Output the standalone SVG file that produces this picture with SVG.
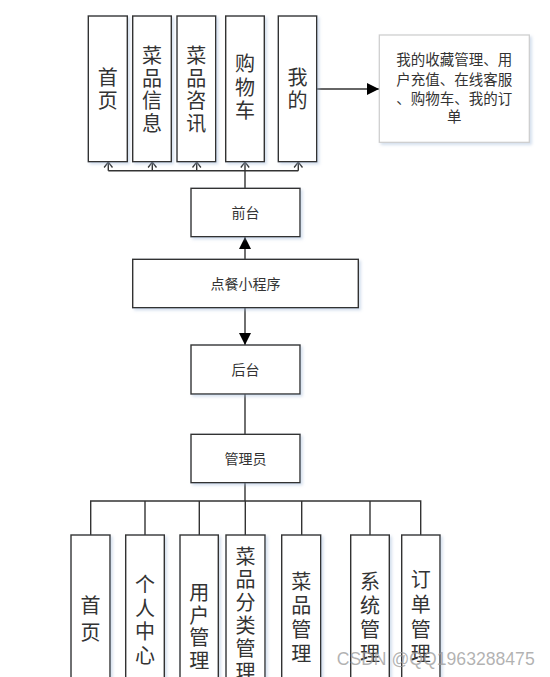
<svg xmlns="http://www.w3.org/2000/svg" width="550" height="677" viewBox="0 0 550 677">
<style>
.box{fill:#fff;stroke:#333;stroke-width:1.4;filter:url(#sh)}
.note{fill:#fff;stroke:#ccc;stroke-width:1.2;filter:url(#sh)}
.big{font-family:"Liberation Serif","Noto Sans CJK SC",serif;font-size:20px;fill:#333;text-anchor:middle}
.mid{font-family:"Liberation Serif","Noto Sans CJK SC",serif;font-size:14px;fill:#333;text-anchor:middle}
.small{font-family:"Liberation Serif","Noto Sans CJK SC",serif;font-size:14.5px;fill:#333;text-anchor:middle}
.ln{fill:none;stroke:#333;stroke-width:1.4}
.wm{font-family:"Liberation Sans",Arial,sans-serif;font-size:17.5px;fill:#999;fill-opacity:0.75}
</style>
<defs>
<filter id="sh" x="-20%" y="-20%" width="140%" height="140%">
<feDropShadow dx="2" dy="2" stdDeviation="1.5" flood-color="#9fb8d8" flood-opacity="0.45"/>
</filter>
<marker id="fa" markerWidth="12" markerHeight="12" refX="12" refY="6" orient="auto" markerUnits="userSpaceOnUse">
<path d="M0,0 L12,6 L0,12 Z" fill="#000"/>
</marker>
<marker id="oa" markerWidth="8" markerHeight="10" refX="6" refY="5" orient="auto" markerUnits="userSpaceOnUse">
<path d="M0.5,0.8 L6,5 L0.5,9.2" fill="none" stroke="#333" stroke-width="1.3"/>
</marker>
</defs>

<g id="connectors">
<path class="ln" d="M108.3,170.7 H298.3"/>
<path class="ln" d="M108.3,170.7 V162" marker-end="url(#oa)"/>
<path class="ln" d="M152.3,170.7 V162" marker-end="url(#oa)"/>
<path class="ln" d="M196.7,170.7 V162" marker-end="url(#oa)"/>
<path class="ln" d="M245,170.7 V162" marker-end="url(#oa)"/>
<path class="ln" d="M298.3,170.7 V162" marker-end="url(#oa)"/>
<path class="ln" d="M245,170.7 V188.3"/>
<path class="ln" d="M316.7,89 H379" marker-end="url(#fa)"/>
<path class="ln" d="M245,259.3 V237" marker-end="url(#fa)"/>
<path class="ln" d="M245,307.7 V345" marker-end="url(#fa)"/>
<path class="ln" d="M245,394 V434.3"/>
<path class="ln" d="M245,482.7 V501"/>
<path class="ln" d="M90.7,535 V501 H420.7 V535"/>
<path class="ln" d="M145,501 V535"/>
<path class="ln" d="M199.3,501 V535"/>
<path class="ln" d="M245.3,501 V535"/>
<path class="ln" d="M301.7,501 V535"/>
<path class="ln" d="M370,501 V535"/>
</g>

<g id="top-home">
<rect class="box" x="88.3" y="16" width="39" height="145.7"/>
<text class="big"><tspan x="107.8" y="84.5">首</tspan><tspan x="107.8" y="107.5">页</tspan></text>
</g>
<g id="top-dishinfo">
<rect class="box" x="132.7" y="16" width="38.6" height="145.7"/>
<text class="big"><tspan x="152" y="62.5">菜</tspan><tspan x="152" y="85.5">品</tspan><tspan x="152" y="108">信</tspan><tspan x="152" y="130.5">息</tspan></text>
</g>
<g id="top-dishnews">
<rect class="box" x="177" y="16" width="38.7" height="145.7"/>
<text class="big"><tspan x="196.3" y="62.5">菜</tspan><tspan x="196.3" y="85.5">品</tspan><tspan x="196.3" y="108">咨</tspan><tspan x="196.3" y="130.5">讯</tspan></text>
</g>
<g id="top-cart">
<rect class="box" x="225.7" y="16" width="38.6" height="145.7"/>
<text class="big"><tspan x="245" y="71">购</tspan><tspan x="245" y="94.5">物</tspan><tspan x="245" y="117.5">车</tspan></text>
</g>
<g id="top-mine">
<rect class="box" x="278.3" y="16" width="38.4" height="145.7"/>
<text class="big"><tspan x="297.5" y="84.5">我</tspan><tspan x="297.5" y="107.5">的</tspan></text>
</g>
<g id="note">
<rect class="note" x="379.3" y="35" width="150" height="107.3"/>
<text class="small"><tspan x="454.3" y="65.3">我的收藏管理、用</tspan><tspan x="454.3" y="84.5">户充值、在线客服</tspan><tspan x="454.3" y="103.5">、购物车、我的订</tspan><tspan x="454.3" y="122">单</tspan></text>
</g>
<g id="frontend">
<rect class="box" x="191" y="188.3" width="109" height="48.4"/>
<text class="mid" x="245.5" y="218.3">前台</text>
</g>
<g id="miniapp">
<rect class="box" x="132.7" y="259.3" width="225.6" height="48.4"/>
<text class="mid" x="245.5" y="289">点餐小程序</text>
</g>
<g id="backend">
<rect class="box" x="191" y="345" width="109" height="49"/>
<text class="mid" x="245.5" y="375">后台</text>
</g>
<g id="admin">
<rect class="box" x="191" y="434.3" width="109" height="48.4"/>
<text class="mid" x="245.5" y="464">管理员</text>
</g>

<g id="b-home">
<rect class="box" x="71" y="535" width="39" height="170"/>
<text class="big"><tspan x="90.5" y="612.5">首</tspan><tspan x="90.5" y="639.5">页</tspan></text>
</g>
<g id="b-personal">
<rect class="box" x="125.7" y="535" width="38.6" height="170"/>
<text class="big"><tspan x="145" y="592">个</tspan><tspan x="145" y="615.5">人</tspan><tspan x="145" y="639">中</tspan><tspan x="145" y="662.5">心</tspan></text>
</g>
<g id="b-user">
<rect class="box" x="180" y="535" width="38.3" height="170"/>
<text class="big"><tspan x="199.2" y="600">用</tspan><tspan x="199.2" y="622.5">户</tspan><tspan x="199.2" y="645">管</tspan><tspan x="199.2" y="667.5">理</tspan></text>
</g>
<g id="b-category">
<rect class="box" x="226" y="535" width="39" height="170"/>
<text class="big"><tspan x="245.5" y="564">菜</tspan><tspan x="245.5" y="587">品</tspan><tspan x="245.5" y="610">分</tspan><tspan x="245.5" y="633">类</tspan><tspan x="245.5" y="656">管</tspan><tspan x="245.5" y="679">理</tspan></text>
</g>
<g id="b-dish">
<rect class="box" x="281.7" y="535" width="39" height="170"/>
<text class="big"><tspan x="301.2" y="589">菜</tspan><tspan x="301.2" y="613">品</tspan><tspan x="301.2" y="637">管</tspan><tspan x="301.2" y="661">理</tspan></text>
</g>
<g id="b-system">
<rect class="box" x="350.7" y="535" width="38.6" height="170"/>
<text class="big"><tspan x="370" y="589">系</tspan><tspan x="370" y="613">统</tspan><tspan x="370" y="637">管</tspan><tspan x="370" y="661">理</tspan></text>
</g>
<g id="b-order">
<rect class="box" x="401.7" y="535" width="38.3" height="170"/>
<text class="big"><tspan x="420.8" y="587">订</tspan><tspan x="420.8" y="612">单</tspan><tspan x="420.8" y="637">管</tspan><tspan x="420.8" y="661">理</tspan></text>
</g>

<text class="wm" x="336.7" y="664.5" textLength="198" lengthAdjust="spacingAndGlyphs">CSDN @QQ1963288475</text>
</svg>
